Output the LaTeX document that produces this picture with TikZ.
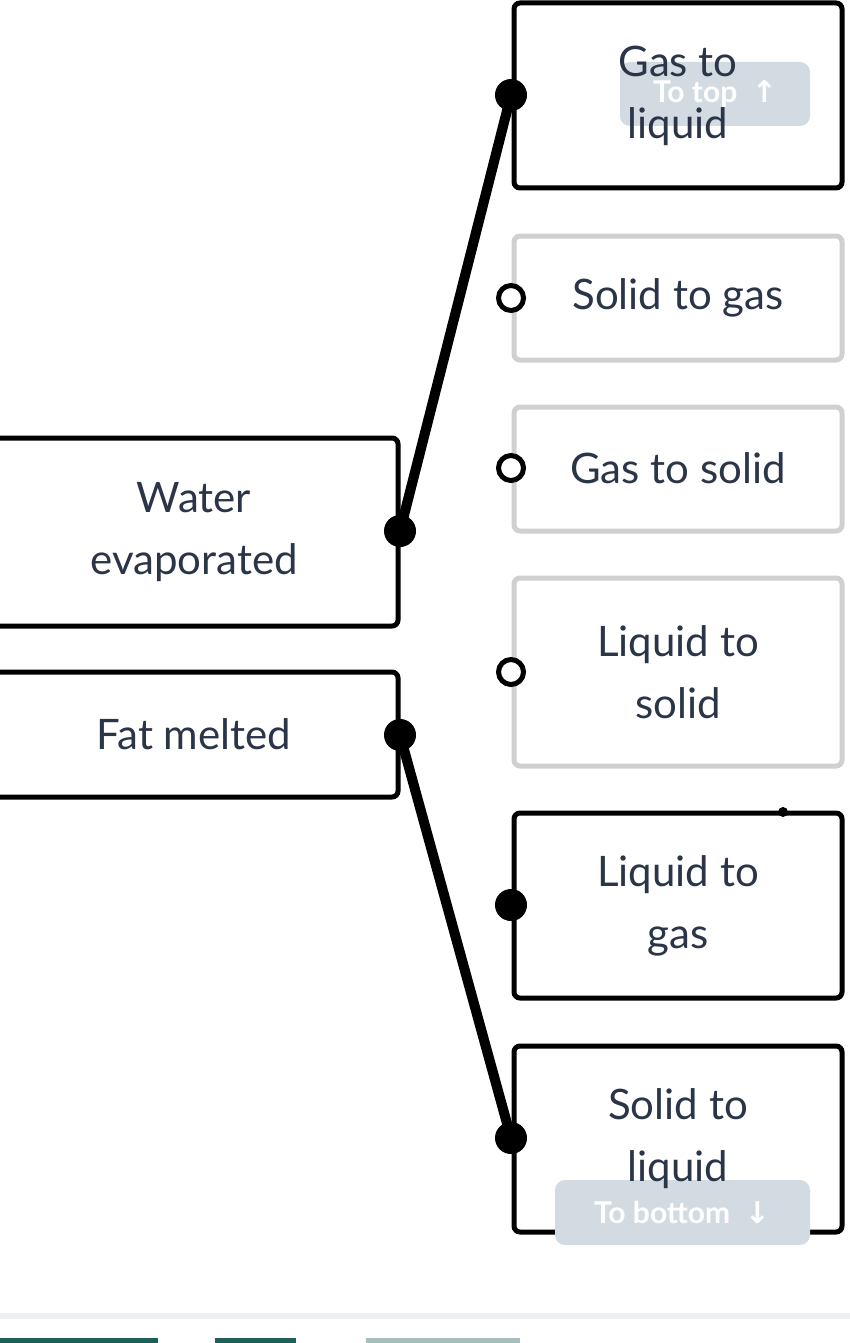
\documentclass[tikz,border=0pt]{standalone}
\usepackage{fontspec}
\setmainfont{Lato}
\newfontfamily\arrowfont{DejaVu Sans}
\begin{document}
\begin{tikzpicture}[x=1pt,y=-1pt,
  txt/.style={text=ink,font=\fontsize{42}{62}\selectfont,align=center},
  blk/.style={draw=black,line width=5pt,rounded corners=6pt},
  gry/.style={draw=boxgray,line width=5pt,rounded corners=6pt},
  full/.style={circle,fill=black,inner sep=0pt,minimum size=32pt},
  hollow/.style={circle,draw=black,fill=white,line width=5pt,inner sep=0pt,minimum size=25pt},
  conn/.style={line width=10pt},
  btn/.style={fill=btngray,rounded corners=10pt,draw=none},
  btntxt/.style={text=white,font=\bfseries\fontsize{30}{34}\selectfont}]
\definecolor{ink}{HTML}{2A3548}
\definecolor{boxgray}{HTML}{D0D0D0}
\definecolor{btngray}{HTML}{D3DBE2}
\definecolor{teal}{HTML}{1E5F5A}
\useasboundingbox (0,0) rectangle (850,1343);
% right boxes
\draw[blk] (514,3) rectangle (842,188);
\draw[gry] (514,236) rectangle (842,360);
\draw[gry] (514,407) rectangle (842,531);
\draw[gry] (514,578) rectangle (842,766);
\draw[blk] (514,813) rectangle (842,998);
\draw[blk] (514,1046) rectangle (842,1232);
% left boxes
\draw[blk] (-10,438) rectangle (398,626);
\draw[blk] (-10,672) rectangle (398,797);
% overlay buttons (text of cards shows over them)
\fill[btn] (620,62) rectangle (810,126);
\node[btntxt] (bt) at (715,94) {To top\ \ {\arrowfont ↑}};
\fill[btn] (555,1180) rectangle (810,1245);
\node[btntxt] (bb) at (682,1212) {To bottom\ \ {\arrowfont ↓}};
% texts
\node[txt] (t1) at (678,96) {Gas to\\liquid};
\node[txt] (t2) at (678,298) {Solid to gas};
\node[txt] (t3) at (678,468) {Gas to solid};
\node[txt] (t4) at (678,672) {Liquid to\\solid};
\node[txt] (t5) at (678,906) {Liquid to\\gas};
\node[txt] (t6) at (678,1139) {Solid to\\liquid};
\node[txt] (lw) at (194,532) {Water\\evaporated};
\node[txt] (lf) at (194,734) {Fat melted};
% connectors
\node[full] (d1) at (511,95) {};
\node[hollow] (d2) at (511,298) {};
\node[hollow] (d3) at (511,468) {};
\node[hollow] (d4) at (511,672) {};
\node[full] (d5) at (511,905) {};
\node[full] (d6) at (511,1138) {};
\node[full] (lwd) at (400,531) {};
\node[full] (lfd) at (400,735) {};
\draw[conn] (lwd.center) -- (d1.center);
\draw[conn] (lfd.center) -- (d6.center);
\fill (783,812) circle (5);
% page footer
\fill[color=btngray!40] (0,1313) rectangle (850,1319);
\fill[teal] (0,1338) rectangle (158,1343);
\fill[teal] (215,1338) rectangle (296,1343);
\fill[teal!40] (366,1338) rectangle (520,1343);
\end{tikzpicture}
\end{document}
